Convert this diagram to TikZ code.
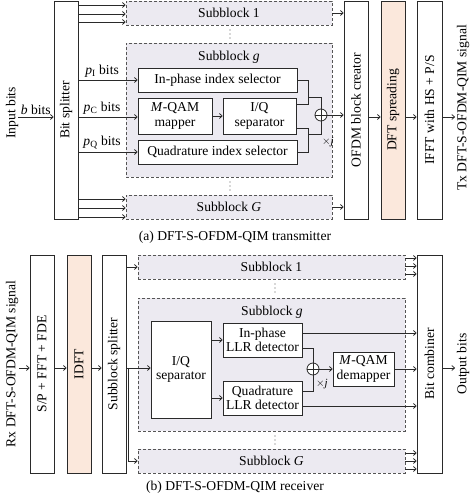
\documentclass[tikz,border=0pt]{standalone}
\usepackage{fontspec}
\setmainfont{Liberation Serif}
\usetikzlibrary{arrows.meta}
\definecolor{subfill}{HTML}{ECEAF1}
\definecolor{peach}{HTML}{FBE8DC}
\definecolor{ink}{HTML}{2A2A2A}
\begin{document}
\begin{tikzpicture}[x=1pt,y=-1pt,
  font=\fontsize{13.6}{14.2}\selectfont,
  >={To[length=3.5pt,width=5.5pt]},
  box/.style={draw=ink, fill=white, inner sep=0pt, line width=0.8pt, align=center},
  pbox/.style={box, fill=peach},
  sub/.style={draw=ink!80, dash pattern=on 3pt off 2pt, fill=subfill, line width=0.8pt, inner sep=0pt},
  conn/.style={draw=ink, line width=0.8pt},
  arr/.style={conn,->},
  summ/.style={circle, draw=ink, fill=white, line width=0.8pt, minimum size=12pt, inner sep=0pt},
  vdot/.style={fill=ink!80},
  small/.style={font=\fontsize{11}{11}\selectfont, inner sep=1pt}]
\useasboundingbox (0,0) rectangle (474,503);

% ---------------- Transmitter ----------------
\node[rotate=90] (inp) at (12,113) {Input bits};
\coordinate (inA) at (18,117);
\node[box, minimum width=24, minimum height=218,
      label={[rotate=90]center:Bit splitter}] (bs) at (66,110) {};
\draw[arr] (inA) -- (bs.west |- inA) node[midway, above=-1pt] {\textit{b} bits};

\node[sub, minimum width=206, minimum height=24] (s1) at (229,13) {Subblock 1};
\foreach \yy in {30,34,38} \fill[vdot] (230,\yy) circle (0.6pt);
\node[sub, minimum width=206, minimum height=134] (sg) at (229,110) {};
\node (sgT) at (229,57) {Subblock \textit{g}};
\foreach \yy in {182,186,190} \fill[vdot] (230,\yy) circle (0.6pt);
\node[sub, minimum width=206, minimum height=24] (sG) at (229,207) {Subblock \textit{G}};

\node[box, minimum width=159, minimum height=24] (ips) at (217.5,80) {In-phase index selector};
\node[box, minimum width=74, minimum height=36] (mq) at (175,116) {\textit{M}-QAM\\mapper};
\node[box, minimum width=73, minimum height=36] (iqs) at (259.5,116) {I/Q\\separator};
\node[box, minimum width=159, minimum height=24] (qis) at (217.5,152) {Quadrature index selector};
\node[summ] (sum) at (321,115) {};
\draw[conn] (sum.north) -- (sum.south) (sum.west) -- (sum.east);
\node[small] (xj) at (328,142) {$\times$\textit{j}};

\node[box, minimum width=24, minimum height=218,
      label={[rotate=90]center:OFDM block creator}] (ofdm) at (356,110) {};
\node[pbox, minimum width=24, minimum height=218,
      label={[rotate=90]center:DFT spreading}] (dft) at (393,110) {};
\node[box, minimum width=25, minimum height=218,
      label={[rotate=90]center:IFFT with HS + P/S}] (ifft) at (429.5,110) {};
\node[rotate=90] (txs) at (463,108) {Tx DFT-S-OFDM-QIM signal};
\coordinate (txA) at (455,117);

% splitter to subblocks
\foreach \yy in {5,14,22} \draw[arr] (bs.east |- 0,\yy) -- (s1.west |- 0,\yy);
\foreach \yy in {199,208,217} \draw[arr] (bs.east |- 0,\yy) -- (sG.west |- 0,\yy);
\draw[arr] (bs.east |- ips.west) -- (ips.west) node[pos=0.4, above=-1pt] {\textit{p}\textsubscript{I} bits};
\draw[arr] (bs.east |- 0,117) -- (mq.west |- 0,117) node[pos=0.4, above=-1pt] {\textit{p}\textsubscript{C} bits};
\draw[arr] (bs.east |- qis.west) -- (qis.west) node[pos=0.4, above=-1pt] {\textit{p}\textsubscript{Q} bits};
\draw[arr] (mq.east) -- (iqs.west);

\coordinate (jt) at (308,97);
\coordinate (jb) at (308,134);
\draw[conn] (ips.east) -| (jt) -| (sum.north);
\draw[conn] (iqs.east |- 0,104) -| (jt);
\draw[conn] (qis.east) -| (jb) -| (sum.south);
\draw[conn] (iqs.east |- 0,128) -| (jb);

\draw[arr] (s1.east) -- (ofdm.west |- s1.east);
\draw[arr] (sum.east) -- (ofdm.west |- sum.east);
\draw[arr] (sG.east) -- (ofdm.west |- sG.east);
\draw[arr] (ofdm.east |- 0,117) -- (dft.west |- 0,117);
\draw[arr] (dft.east |- 0,117) -- (ifft.west |- 0,117);
\draw[arr] (ifft.east |- txA) -- (txA);

\node (capA) at (235,237) {(a) DFT-S-OFDM-QIM transmitter};

% ---------------- Receiver ----------------
\node[rotate=90] (rxs) at (12,364) {Rx DFT-S-OFDM-QIM signal};
\coordinate (rxA) at (19,368);
\node[box, minimum width=24, minimum height=218,
      label={[rotate=90]center:S/P + FFT + FDE}] (spf) at (42,364) {};
\node[pbox, minimum width=24, minimum height=218,
      label={[rotate=90]center:IDFT}] (idft) at (79,364) {};
\node[box, minimum width=24, minimum height=218,
      label={[rotate=90]center:Subblock splitter}] (ssp) at (114,364) {};

\node[sub, minimum width=267, minimum height=24] (rs1) at (271.5,267) {Subblock 1};
\foreach \yy in {284,288,292} \fill[vdot] (275,\yy) circle (0.6pt);
\node[sub, minimum width=267, minimum height=133] (rsg) at (271.5,364.5) {};
\node (rsgT) at (272,312) {Subblock \textit{g}};
\foreach \yy in {436,440,444} \fill[vdot] (275,\yy) circle (0.6pt);
\node[sub, minimum width=267, minimum height=24] (rsG) at (271.5,461) {Subblock \textit{G}};

\node[box, minimum width=60, minimum height=97] (riq) at (181,369.5) {I/Q\\separator};
\node[box, minimum width=79, minimum height=34] (rdl) at (262.5,340) {In-phase\\LLR detector};
\node[box, minimum width=79, minimum height=34] (rql) at (262.5,398) {Quadrature\\LLR detector};
\node[summ] (sum2) at (313,369) {};
\draw[conn] (sum2.north) -- (sum2.south) (sum2.west) -- (sum2.east);
\node[small] (xj2) at (322,384) {$\times$\textit{j}};
\node[box, minimum width=61, minimum height=34] (dem) at (363.5,369) {\textit{M}-QAM\\demapper};

\node[box, minimum width=25, minimum height=218,
      label={[rotate=90]center:Bit combiner}] (bc) at (429.5,364) {};
\node[rotate=90] (outb) at (463,364) {Output bits};
\coordinate (outA) at (455,368);

\draw[arr] (rxA) -- (spf.west |- rxA);
\draw[arr] (spf.east |- 0,368) -- (idft.west |- 0,368);
\draw[arr] (idft.east |- 0,368) -- (ssp.west |- 0,368);
\draw[arr] (ssp.east |- rs1.west) -- (rs1.west);
\draw[arr] (ssp.east |- 0,368) -- (riq.west |- 0,368);
\coordinate (br) at (128,368);
\draw[arr] (br) |- (rsG.west);

\draw[arr] (riq.east |- rdl.west) -- (rdl.west);
\draw[arr] (riq.east |- rql.west) -- (rql.west);
\draw[arr] (rdl.east |- 0,333) -- (bc.west |- 0,333);
\draw[conn] (rdl.east |- 0,348) -| (sum2.north);
\draw[conn] (rql.east |- 0,391) -| (sum2.south);
\draw[arr] (rql.east |- 0,406) -- (bc.west |- 0,406);
\draw[arr] (sum2.east) -- (dem.west);
\draw[arr] (dem.east) -- (bc.west |- dem.east);

\foreach \yy in {258,266,274} \draw[arr] (rs1.east |- 0,\yy) -- (bc.west |- 0,\yy);
\foreach \yy in {453,461,469} \draw[arr] (rsG.east |- 0,\yy) -- (bc.west |- 0,\yy);
\draw[arr] (bc.east |- outA) -- (outA);

\node (capB) at (235,487) {(b) DFT-S-OFDM-QIM receiver};
\end{tikzpicture}
\end{document}
